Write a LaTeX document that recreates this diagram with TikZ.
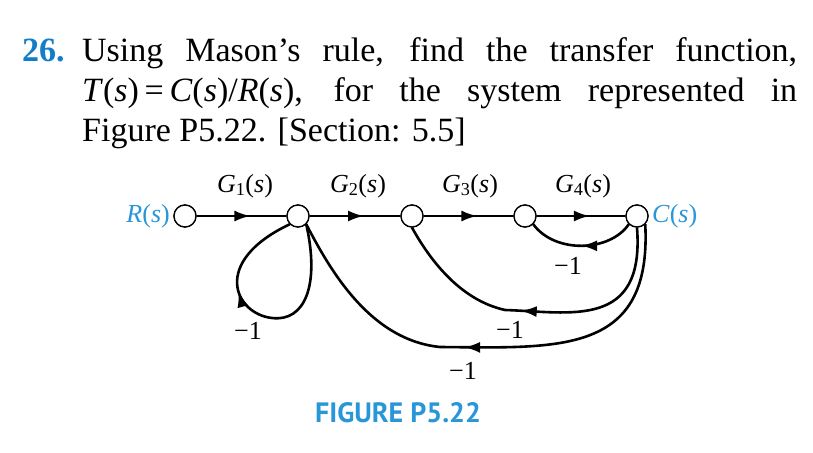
\documentclass[tikz,border=0pt]{standalone}
\usepackage{fontspec}
\setmainfont{Liberation Serif}
\newfontfamily\figfont{PT Sans}
\usetikzlibrary{arrows.meta,decorations.markings}
\definecolor{pblue}{RGB}{20,125,200}
\definecolor{lblue}{RGB}{40,150,215}
\tikzset{
  nd/.style={circle,draw,line width=1.3pt,minimum size=22pt,inner sep=0pt,fill=white},
  br/.style={line width=2.6pt},
  midarr/.style={postaction={decorate},decoration={markings,mark=at position #1 with {\arrow{Latex[length=16pt,width=11pt]}}}},
  lbl/.style={font=\fontsize{26}{28}\selectfont,inner sep=0pt},
  txt/.style={font=\fontsize{34}{38}\selectfont,anchor=base west,inner sep=0pt}
}
\begin{document}
\begin{tikzpicture}[x=1pt,y=-1pt]
\useasboundingbox (0,0) rectangle (813,452);
\node[txt,text=pblue] (n26) at (22,61) {\bfseries 26.};
\node[txt] (l1) at (82,61) {\makebox[715pt][s]{Using Mason’s rule, find the transfer function,}};
\node[txt] (l2) at (82,101) {\makebox[715pt][s]{\textit{T}(\textit{s})\,=\,\textit{C}(\textit{s})/\textit{R}(\textit{s}), for the system represented in}};
\node[txt] (l3) at (82,141) {Figure P5.22. [Section: 5.5]};
% nodes
\node[nd] (r) at (185,216) {};
\node[nd] (a) at (298,216) {};
\node[nd] (b) at (412,216) {};
\node[nd] (c) at (525,216) {};
\node[nd] (o) at (637,216) {};
\draw[br,midarr=0.6] (r) -- (a);
\draw[br,midarr=0.6] (a) -- (b);
\draw[br,midarr=0.6] (b) -- (c);
\draw[br,midarr=0.6] (c) -- (o);
% feedback
\draw[br,midarr=0.5] (o.south west) .. controls (610,252) and (555,254) .. (c.south east);
\draw[br,midarr=0.64] (a.south east) .. controls (320,285) and (305,322) .. (272,318) .. controls (235,314) and (210,262) .. (a.south west);
\draw[br,midarr=0.55] (o.south) .. controls (645,330) and (570,312) .. (505,310) .. controls (460,300) and (430,260) .. (b.south);
\draw[br,midarr=0.55] (o.south east) .. controls (652,355) and (560,348) .. (440,347) .. controls (370,340) and (330,270) .. (a.south east);
\node[nd] at (r) {};\node[nd] at (a) {};\node[nd] at (b) {};\node[nd] at (c) {};\node[nd] at (o) {};
\node[lbl,anchor=east] (rl) at (170,216) {\color{lblue}\textit{R}(\textit{s})};
\node[lbl,anchor=west] (cl) at (652,216) {\color{lblue}\textit{C}(\textit{s})};
\node[lbl] (g1) at (245,186) {\textit{G}\textsubscript{1}(\textit{s})};
\node[lbl] (g2) at (358,186) {\textit{G}\textsubscript{2}(\textit{s})};
\node[lbl] (g3) at (470,186) {\textit{G}\textsubscript{3}(\textit{s})};
\node[lbl] (g4) at (583,186) {\textit{G}\textsubscript{4}(\textit{s})};
\node[lbl] (m4) at (568,266) {−1};
\node[lbl] (m3) at (510,330) {−1};
\node[lbl] (m2) at (463,371) {−1};
\node[lbl] (m1) at (248,331) {−1};
\node[font=\figfont\bfseries\fontsize{28}{30}\selectfont,text=lblue,inner sep=0pt] (fig) at (398,413) {FIGURE P5.22};
\end{tikzpicture}
\end{document}
